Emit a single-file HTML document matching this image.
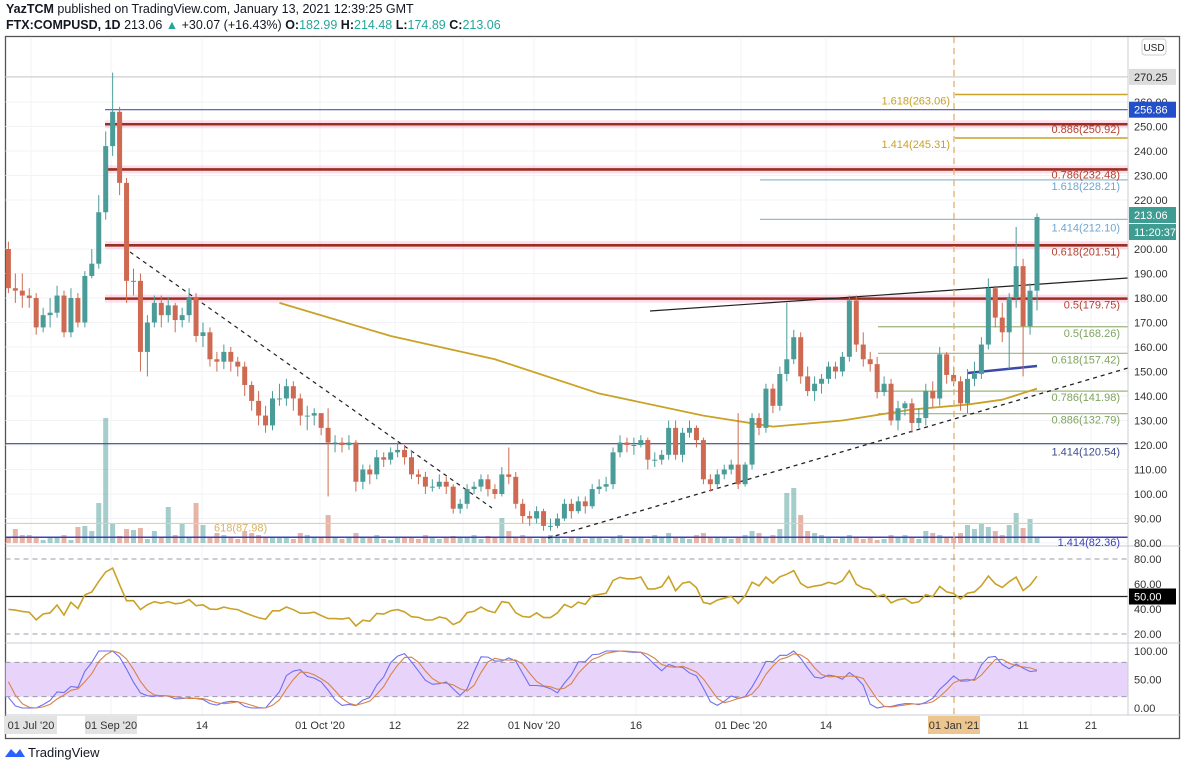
<!DOCTYPE html>
<html><head><meta charset="utf-8"><style>
body{margin:0;background:#fff;width:1185px;height:768px;overflow:hidden;font-family:"Liberation Sans",sans-serif}
svg text{font-family:"Liberation Sans",sans-serif}
</style></head><body>
<svg id="chart" width="1185" height="768" xmlns="http://www.w3.org/2000/svg">
<text x="6" y="13" font-size="12.5" fill="#131722"><tspan font-weight="bold">YazTCM</tspan> published on TradingView.com, January 13, 2021 12:39:25 GMT</text>
<text x="6" y="29" font-size="12.5" fill="#131722"><tspan font-weight="bold">FTX:COMPUSD, 1D</tspan> 213.06 <tspan fill="#26a69a">▲</tspan> +30.07 (+16.43%) <tspan font-weight="bold">O:</tspan><tspan fill="#26a69a">182.99</tspan> <tspan font-weight="bold">H:</tspan><tspan fill="#26a69a">214.48</tspan> <tspan font-weight="bold">L:</tspan><tspan fill="#26a69a">174.89</tspan> <tspan font-weight="bold">C:</tspan><tspan fill="#26a69a">213.06</tspan></text>
<rect x="5.5" y="36.5" width="1174" height="702" fill="none" stroke="#555" stroke-width="1.3"/>
<g id="grid"></g>
<g id="main"></g>
<g id="axis"></g>
<text x="28" y="757" font-size="13" fill="#131722">TradingView</text>
<path d="M5 757 l6 -8 l5 5 l4 -5 l5 8 z" fill="#2962ff"/>
</svg>
<script>
const closes=[184,183,181,180,168,173,174,181,166,180,170,189,194,215,242,256,227,187,187,158,170,178,173,177,171,173,180,164.5,166,155,154,158,154,152,144.5,138,132,128,139,139,144,139,132,132,133,127,121,121,120,121,105,110,108,115,114,117,118,115,108,107,103,103,105,103,94,96,102,103,106,102,100,108,107,96,91,90,93,87,87,90,96,93,97,95,102,103,104,117,121,120,120,122,114,114,116,127,116,125,127,122,106,104,108,110,112,104,112,131,127,143,136,149,155,164,148,142,145,147,152,150,156,179,161,155,153,141.6,145,130,135,137,129,131,142,139,157,148.6,146,137,147,149,161,184,172,166,180,193,168.5,182.99,213.06];
const highs=[203,190,190,184,182,176,180,185,183,184,182,191,200,222,248,272,258,229,192,190,173,181,181,180,178,176,184,182,170,168,158,161,160,156,154,146,142,136,142,145,147,146,141,136,135,133,135,124,123,124,122,112,112,118,117,119,121,120,118,110,109,106,108,107,104,98,104,105,108,108,104,111,119,109,98,93,95,94,90,92,98,98,99,99,104,106,107,119,124,123,123,124,123,117,118,130,130,127,130,128,123,108,110,112,114,133,113,133,133,145,145,152,178,167,166,152,148,149,154,154,158,181,181,166,158,156,148,147,138,138,139,135,145,146,160,158,152,148,151,154,164,188,185,178,182,209,196,186,214.48];
const lows=[182,178,176,176,165,166,168,172,164,164,168,168,188,192,212,238,222,178,181,150,148,168,168,170,166,168,170,162,160,152,150,151,150,148,140,134,128,125,126,136,136,134,128,126,128,124,99,117,117,118,101,102,104,106,111,112,115,112,106,104,100,101,102,100,92,92,94,100,101,99,98,99,104,94,88,87,88,85,85,86,89,90,92,92,94,100,101,102,115,117,116,119,110,111,112,114,114,113,123,119,104,101,102,106,108,102,103,110,124,125,133,134,146,153,145,140,138,141,145,147,148,154,158,152,150,139,140,128,126,132,125,127,128,135,136,145,144,134,133,144,147,159,168,162,151,176,148,165,174.89];
const volumes=[5,14,8,8,6,3,5,6,8,3,16,17,12,40,125,20,7,14,13,15,4,12,6,36,8,20,6,40,18,6,10,8,6,4,12,10,8,5,5,5,6,4,10,8,6,5,28,6,4,6,10,5,6,8,4,3,6,5,6,4,8,6,4,5,7,5,6,8,4,7,6,25,12,6,8,5,4,6,8,5,4,6,5,4,6,5,4,6,8,4,6,5,4,8,6,10,5,6,4,8,10,5,6,5,4,6,8,12,10,6,8,14,50,55,28,12,10,8,6,4,5,8,6,4,5,3,4,8,6,8,6,4,12,10,8,6,6,10,18,14,20,16,12,8,18,30,15,24,5];
const priorCloses=[205,200,195,198,190,188,185,192,196,200,210,205,198,195,190,185,180,178,182,188,195,200,205,210,208,200,195,192,198,205,210,206,200,195];
const firstOpen=200;
const priceTicks=[260,250,240,230,220,200,190,180,170,160,150,140,130,120,110,100,90,80];
const rsiTicks=[80,60,40,20];
const stochTicks=[100,50,0];
const maIdx=[39,55,70,85,100,110,120,130,138,143,148];
const maVal=[178,164.5,155,141,132,127.5,130,134.5,136.5,138.5,143];
const timeLabels=[["01 Jul '20",31],["01 Sep '20",111],["14",202],["01 Oct '20",320],["12",395],["22",463],["01 Nov '20",534],["16",636],["01 Dec '20",741],["14",826],["01 Jan '21",954],["11",1023],["21",1091]];

const NS="http://www.w3.org/2000/svg";
const L=5.5,R=1128,TOP=37,MB=545;
function xOf(i){return 8.4+i*6.95;}
function yP(p){return 543-(p-80)*2.45;}
function yR(v){return 596.5-(v-50)*1.25;}
function yS(v){return 708-v*0.57;}
function mk(tag,attrs,parent){const e=document.createElementNS(NS,tag);for(const k in attrs)e.setAttribute(k,attrs[k]);(parent||document.getElementById('main')).appendChild(e);return e;}
const main=document.getElementById('main'),grid=document.getElementById('grid'),axis=document.getElementById('axis');
const TEAL="#4a9c99",RED="#cf6a52";

// grid
priceTicks.forEach(p=>{const l=mk('line',{x1:L,x2:R,y1:yP(p),y2:yP(p),stroke:'#f1f3f6'},grid);

});
timeLabels.forEach(t=>{const l=mk('line',{x1:t[1],x2:t[1],y1:TOP,y2:715,stroke:'#f1f3f6'},grid);

});

// panel separators
[[546,'rsi-panel-border'],[643,'stoch-panel-border'],[715,'time-axis-border']].forEach(s=>{const l=mk('line',{x1:L,x2:1180,y1:s[0],y2:s[0],stroke:'#c9ccd3'},axis);

});
const ra=mk('line',{x1:R,x2:R,y1:TOP,y2:715,stroke:'#c9ccd3'},axis);



// clip
const defs=mk('defs',{},main);
const cp=mk('clipPath',{id:'mc'},defs);mk('rect',{x:L,y:TOP,width:R-L,height:MB-TOP},cp);
const g=mk('g',{'clip-path':'url(#mc)'},main);

// volumes
volumes.forEach((v,i)=>{const o=i?closes[i-1]:firstOpen;const up=closes[i]>=o;
const r=mk('rect',{x:xOf(i)-2.5,y:543-v,width:5,height:v,fill:up?'rgba(74,156,153,0.5)':'rgba(207,106,82,0.5)'},g);

});

// horizontal level lines
const fullLines=[[270.25,'#d6d6d6',1.5,'level-270'],[120.54,'#3f4a8a',1.2,'level-120-54'],[82.36,'#3b3fbf',1.5,'level-82-36'],[87.98,'#e8cf9a',1.2,'level-87-98']];
fullLines.forEach(f=>{const l=mk('line',{x1:L,x2:R,y1:yP(f[0]),y2:yP(f[0]),stroke:f[1],'stroke-width':f[2]},g);

});
const blueTop=mk('line',{x1:105,x2:R,y1:yP(256.86),y2:yP(256.86),stroke:'#4a55b5','stroke-width':1.2},g);


const redLevels=[250.92,232.48,201.51,179.75];
redLevels.forEach(p=>{mk('line',{x1:105,x2:R,y1:yP(p),y2:yP(p),stroke:'rgba(255,120,170,0.25)','stroke-width':8},g);
const l=mk('line',{x1:105,x2:R,y1:yP(p),y2:yP(p),stroke:'#9a2f20','stroke-width':2.6},g);

});
const goldLevels=[263.06,245.31];
goldLevels.forEach(p=>{const l=mk('line',{x1:955,x2:R,y1:yP(p),y2:yP(p),stroke:'#c9a227','stroke-width':1.5},g);

});
const lbLevels=[228.21,212.10];
lbLevels.forEach(p=>{const l=mk('line',{x1:760,x2:R,y1:yP(p),y2:yP(p),stroke:'#8fbbd9','stroke-width':1.2},g);

});
const greenLevels=[168.26,157.42,141.98,132.79];
greenLevels.forEach(p=>{const l=mk('line',{x1:878,x2:R,y1:yP(p),y2:yP(p),stroke:'#9bb57a','stroke-width':1.2},g);

});

// trend lines
const tl=mk('line',{x1:650,y1:311,x2:R,y2:278,stroke:'#222','stroke-width':1.2},g);


const dd=mk('line',{x1:130,y1:252,x2:492,y2:508,stroke:'#222','stroke-width':1.2,'stroke-dasharray':'4 4'},g);


const du=mk('line',{x1:548,y1:538,x2:R,y2:368,stroke:'#222','stroke-width':1.2,'stroke-dasharray':'4 4'},g);


const nv=mk('line',{x1:968,y1:373,x2:1037,y2:366,stroke:'#3b4aa8','stroke-width':2.5},g);



// moving average
const ma=mk('polyline',{points:maIdx.map((k,j)=>xOf(k)+','+yP(maVal[j])).join(' '),fill:'none',stroke:'#c9a227','stroke-width':1.8,'stroke-linejoin':'round'},g);



// candles
closes.forEach((c,i)=>{const o=i?closes[i-1]:firstOpen;const up=c>=o;const col=up?TEAL:RED;const x=xOf(i);
const w=mk('line',{x1:x,x2:x,y1:yP(highs[i]),y2:yP(lows[i]),stroke:col,'stroke-width':1},g);


const top=yP(Math.max(o,c)),bot=yP(Math.min(o,c));
const b=mk('rect',{x:x-2.5,y:top,width:5,height:Math.max(1,bot-top),fill:col},g);

});

// vertical dashed date line
const vd=mk('line',{x1:954,x2:954,y1:TOP,y2:715,stroke:'#e0b070','stroke-width':1.3,'stroke-dasharray':'6 5'},main);



// RSI
const all=priorCloses.concat(closes);const N=14;let ag=0,al=0;const rsiAll=[];
for(let i=1;i<all.length;i++){const d=all[i]-all[i-1];const gn=Math.max(d,0),ls=Math.max(-d,0);
if(i<=N){ag+=gn/N;al+=ls/N;}else{ag=(ag*(N-1)+gn)/N;al=(al*(N-1)+ls)/N;}
rsiAll[i]=i>=N?100-100/(1+ag/(al||1e-9)):50;}
const kRaw=[];for(let i=0;i<all.length;i++){const s=Math.max(1,i-13);let mn=1e9,mx=-1e9;for(let j=s;j<=i;j++){const v=rsiAll[j]??50;mn=Math.min(mn,v);mx=Math.max(mx,v);}kRaw[i]=mx>mn?((rsiAll[i]??50)-mn)/(mx-mn)*100:50;}
const sma=(a,n)=>a.map((v,i)=>{let s=0,c=0;for(let j=Math.max(0,i-n+1);j<=i;j++){s+=a[j];c++;}return s/c;});
const K=sma(kRaw,3),D=sma(K,3);const off=priorCloses.length;

mk('rect',{x:L,y:yS(80),width:R-L,height:yS(20)-yS(80),fill:'#e4cdfa',opacity:0.85},main);
[[yR(80),'rsi-upper-band'],[yR(20),'rsi-lower-band'],[yS(80),'stoch-upper-band'],[yS(20),'stoch-lower-band']].forEach(b=>{const l=mk('line',{x1:L,x2:R,y1:b[0],y2:b[0],stroke:'#9a9aa8','stroke-dasharray':'5 4'},main);

});
const mid=mk('line',{x1:L,x2:R,y1:yR(50),y2:yR(50),stroke:'#222','stroke-width':1.2},main);


const rsiLine=mk('polyline',{points:closes.map((c,i)=>xOf(i)+','+yR(rsiAll[i+off])).join(' '),fill:'none',stroke:'#c9a227','stroke-width':1.6},main);


const kLine=mk('polyline',{points:closes.map((c,i)=>xOf(i)+','+yS(K[i+off])).join(' '),fill:'none',stroke:'#6f6ff0','stroke-width':1.1},main);


const dLine=mk('polyline',{points:closes.map((c,i)=>xOf(i)+','+yS(D[i+off])).join(' '),fill:'none',stroke:'#d9824a','stroke-width':1.1},main);



// axis labels
function txt(s,x,y,fill,size,name,anchor,weight){const t=mk('text',{x:x,y:y,fill:fill,'font-size':size||11,'text-anchor':anchor||'start','font-weight':weight||'normal'},axis);t.textContent=s;

return t;}
priceTicks.forEach(p=>txt(p.toFixed(2),1134,yP(p)+4,'#333',11,'price-tick-label'));
rsiTicks.forEach(v=>txt(v.toFixed(2),1134,yR(v)+4,'#333',11,'rsi-tick-label'));
stochTicks.forEach(v=>txt(v.toFixed(2),1134,yS(v)+4,'#333',11,'stoch-tick-label'));
timeLabels.forEach(t=>{let bg=null;
if(t[0]==="01 Jul '20"||t[0]==="01 Sep '20")bg='#e3e3e3';if(t[0]==="01 Jan '21")bg='#ecc58f';
if(bg){const r=mk('rect',{x:t[1]-26,y:716,width:52,height:18,fill:bg},axis);

}
txt(t[0],t[1],729,'#333',11,'time-tick-label','middle');});
function tag(s,y,bg,fg,name){const r=mk('rect',{x:1129,y:y-8,width:47,height:16,fill:bg},axis);


txt(s,1134,y+4,fg,11,name);}
tag('270.25',yP(270.25),'#dcdcdc','#222','level-270-tag');
tag('256.86',yP(256.86),'#2350c8','#fff','level-256-tag');
tag('213.06',yP(213.06)-2,'#3f9c93','#fff','last-price-tag');
tag('11:20:37',yP(213.06)+15,'#3f9c93','#fff','countdown-tag');
tag('50.00',yR(50),'#000','#fff','rsi-50-tag');
const usd=mk('rect',{x:1142,y:39,width:24,height:16,rx:3,fill:'#fff',stroke:'#ccc'},axis);


txt('USD',1154,51,'#222',10,'currency-label','middle');
const fibLabels=[['1.618(263.06)',950,yP(263.06)+10,'#c9a227'],['0.886(250.92)',1120,yP(250.92)+9,'#b5412f'],['1.414(245.31)',950,yP(245.31)+10,'#c9a227'],['0.786(232.48)',1120,yP(232.48)+9,'#b5412f'],['1.618(228.21)',1120,yP(228.21)+10,'#6fa6cf'],['1.414(212.10)',1120,yP(212.10)+12,'#6fa6cf'],['0.618(201.51)',1120,yP(201.51)+10,'#b5412f'],['0.5(179.75)',1120,yP(179.75)+10,'#b5412f'],['0.5(168.26)',1120,yP(168.26)+10,'#7ea45e'],['0.618(157.42)',1120,yP(157.42)+10,'#7ea45e'],['0.786(141.98)',1120,yP(141.98)+10,'#7ea45e'],['0.886(132.79)',1120,yP(132.79)+10,'#7ea45e'],['1.414(120.54)',1120,yP(120.54)+12,'#3f4a8a'],['1.414(82.36)',1120,yP(82.36)+9,'#3b3fbf'],['618(87.98)',214,yP(87.98)+8,'#d8b26a']];
fibLabels.forEach(f=>txt(f[0],f[1],f[2],f[3],11,'fib-level-label',f[1]===214?'start':'end'));
</script>
</body></html>
